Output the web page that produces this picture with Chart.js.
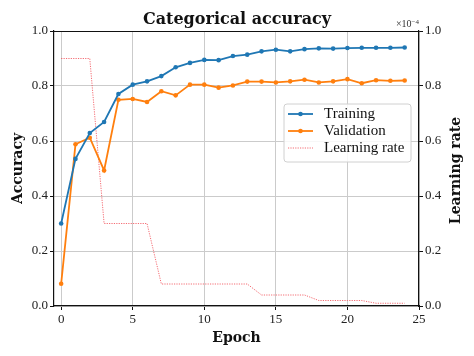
<!DOCTYPE html>
<html><head><meta charset="utf-8">
<script src="https://cdn.jsdelivr.net/npm/chart.js@4"></script>
<style>html,body{margin:0;padding:0;background:#fff}#wrap{width:474px;height:356px}</style>
</head><body><div id="wrap"><canvas id="c" width="474" height="356"></canvas></div>
<script>
const epochs = [0,1,2,3,4,5,6,7,8,9,10,11,12,13,14,15,16,17,18,19,20,21,22,23,24];
const training = [0.300,0.535,0.629,0.669,0.771,0.805,0.817,0.836,0.868,0.884,0.895,0.894,0.909,0.914,0.926,0.932,0.926,0.934,0.937,0.936,0.938,0.939,0.939,0.939,0.940];
const validation = [0.081,0.588,0.612,0.493,0.750,0.753,0.742,0.781,0.766,0.805,0.805,0.794,0.802,0.816,0.816,0.813,0.817,0.823,0.813,0.817,0.825,0.810,0.821,0.819,0.820];
// learning rate in units of 1e-4
const learningRate = [0.9,0.9,0.9,0.3,0.3,0.3,0.3,0.08,0.08,0.08,0.08,0.08,0.08,0.08,0.04,0.04,0.04,0.04,0.02,0.02,0.02,0.02,0.01,0.01,0.01];
const xTicks = [0,5,10,15,20,25];
const yTicks = [0,0.2,0.4,0.6,0.8,1.0];
const lrTicks = [0,0.2,0.4,0.6,0.8,1.0];
const seriesNames = ['Training','Validation','Learning rate'];
const rightAxisTitle = 'Learning rate';

const BLUE = '#1f77b4', ORANGE = '#ff7f0e', RED = 'rgba(240,60,70,0.75)';
const SERIF = '"Liberation Serif", "DejaVu Serif", serif';
const BSERIF = '"DejaVu Serif", serif';

const pts = arr => arr.map((v,i)=>({x:epochs[i], y:v}));

const frame = {
  id:'frame',
  afterDatasetsDraw(chart){
    const {ctx, chartArea:a} = chart;
    ctx.save();
    ctx.strokeStyle='#111'; ctx.lineWidth=1.2;
    ctx.beginPath(); ctx.moveTo(a.left, a.top+0.5); ctx.lineTo(a.right, a.top+0.5); ctx.stroke();
    ctx.restore();
  },
  afterDraw(chart){
    const {ctx, chartArea:a} = chart;
    const ds = chart.data.datasets;
    ctx.save();
    // legend
    const bw=127, bh=58, bx=a.right-8-bw, by=a.top+73, r=3;
    ctx.beginPath();
    ctx.moveTo(bx+r,by); ctx.lineTo(bx+bw-r,by); ctx.arcTo(bx+bw,by,bx+bw,by+r,r);
    ctx.lineTo(bx+bw,by+bh-r); ctx.arcTo(bx+bw,by+bh,bx+bw-r,by+bh,r);
    ctx.lineTo(bx+r,by+bh); ctx.arcTo(bx,by+bh,bx,by+bh-r,r);
    ctx.lineTo(bx,by+r); ctx.arcTo(bx,by,bx+r,by,r); ctx.closePath();
    ctx.fillStyle='rgba(255,255,255,0.85)'; ctx.fill();
    ctx.strokeStyle='#d0d0d0'; ctx.lineWidth=1; ctx.stroke();
    const rows=[by+10, by+27, by+44];
    ds.forEach((d,i)=>{
      const y=rows[i];
      ctx.strokeStyle=d.borderColor; ctx.lineWidth=d.borderWidth;
      ctx.setLineDash(d.borderDash||[]);
      ctx.beginPath(); ctx.moveTo(bx+4,y); ctx.lineTo(bx+29,y); ctx.stroke();
      ctx.setLineDash([]);
      if(d.pointRadius>0){
        ctx.fillStyle=d.borderColor; ctx.beginPath(); ctx.arc(bx+16.5,y,d.pointRadius,0,Math.PI*2); ctx.fill();
      }
      ctx.fillStyle='#111'; ctx.font='15px '+SERIF; ctx.textBaseline='middle'; ctx.textAlign='left';
      ctx.fillText(d.label, bx+40, y+0.5);
    });
    // offset text ×10^-4
    ctx.fillStyle='#333'; ctx.textBaseline='alphabetic';
    ctx.font='7px '+SERIF; const sup='\u22124'; const sw=ctx.measureText(sup).width;
    ctx.textAlign='right'; ctx.fillText(sup, a.right, a.top-7);
    ctx.font='10px '+SERIF; ctx.fillText('\u00d710', a.right-sw, a.top-4);
    // right axis title, reading bottom-to-top
    ctx.translate(456, (a.top+a.bottom)/2+2);
    ctx.rotate(-Math.PI/2);
    ctx.fillStyle='#111'; ctx.font='bold 14px '+BSERIF; ctx.textAlign='center'; ctx.textBaseline='middle';
    ctx.fillText(rightAxisTitle, 0, 0);
    ctx.restore();
  }
};

new Chart(document.getElementById('c'), {
  type:'line',
  data:{datasets:[
    {label:seriesNames[0], data:pts(training), borderColor:BLUE, backgroundColor:BLUE, borderWidth:1.8, pointRadius:2.3, pointHoverRadius:2.3, pointBorderWidth:0, yAxisID:'y', order:1},
    {label:seriesNames[1], data:pts(validation), borderColor:ORANGE, backgroundColor:ORANGE, borderWidth:1.8, pointRadius:2.3, pointHoverRadius:2.3, pointBorderWidth:0, yAxisID:'y', order:2},
    {label:seriesNames[2], data:pts(learningRate), borderColor:RED, backgroundColor:RED, borderWidth:1, borderDash:[1.2,1.2], pointRadius:0, yAxisID:'y2', order:3}
  ]},
  options:{
    responsive:false, animation:false,
    layout:{padding:0},
    plugins:{
      legend:{display:false}, tooltip:{enabled:false},
      title:{display:true, text:'Categorical accuracy', color:'#111', font:{family:BSERIF, size:16, weight:'bold', lineHeight:1.2}, padding:{top:10, bottom:1.8}}
    },
    scales:{
      x:{type:'linear', min:-0.5, max:25,
        afterBuildTicks:s=>{s.ticks=xTicks.map(v=>({value:v}));},
        afterFit:s=>{s.height=50;},
        grid:{color:'#cbcbcb', lineWidth:1, tickColor:'#111', tickLength:4},
        border:{color:'#111', width:1.2},
        ticks:{color:'#222', font:{family:SERIF, size:13}, padding:2, maxRotation:0, callback:v=>String(v)},
        title:{display:true, text:'Epoch', color:'#111', font:{family:BSERIF, size:14, weight:'bold'}, padding:{top:0,bottom:9}}
      },
      y:{type:'linear', position:'left', min:0, max:1,
        afterBuildTicks:s=>{s.ticks=yTicks.map(v=>({value:v}));},
        afterFit:s=>{s.width=54;},
        grid:{color:'#cbcbcb', lineWidth:1, tickColor:'#111', tickLength:4},
        border:{color:'#111', width:1.2},
        ticks:{color:'#222', font:{family:SERIF, size:13}, padding:2, callback:v=>v.toFixed(1)},
        title:{display:true, text:'Accuracy', color:'#111', font:{family:BSERIF, size:14, weight:'bold'}, padding:{top:9.6,bottom:0}}
      },
      y2:{type:'linear', position:'right', min:0, max:1,
        afterBuildTicks:s=>{s.ticks=lrTicks.map(v=>({value:v}));},
        afterFit:s=>{s.width=55;},
        grid:{drawOnChartArea:false, tickColor:'#111', tickLength:4},
        border:{color:'#111', width:1.2},
        ticks:{color:'#222', font:{family:SERIF, size:13}, padding:2, callback:v=>v.toFixed(1)},
        title:{display:false}
      }
    }
  },
  plugins:[frame]
});
</script></body></html>
